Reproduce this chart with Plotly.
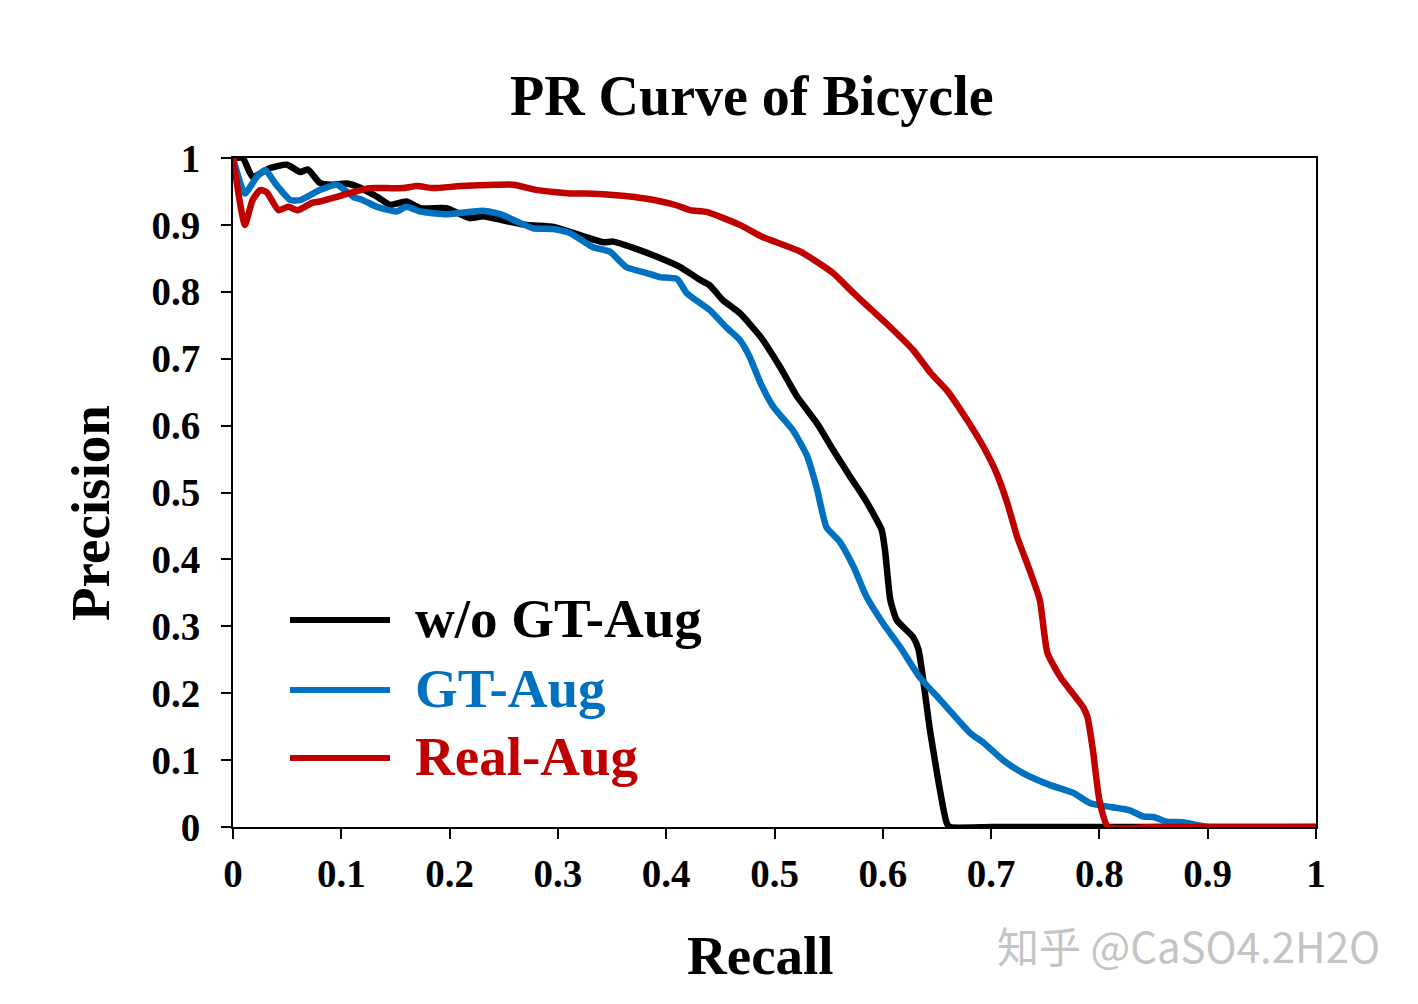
import plotly.graph_objects as go

# ---- data ----
recall_wo = [0.0, 0.009, 0.018, 0.034, 0.05, 0.062, 0.069, 0.080, 0.09, 0.105, 0.117, 0.133, 0.145, 0.16, 0.173,
             0.197, 0.219, 0.231, 0.249, 0.271, 0.296, 0.314, 0.342, 0.351, 0.369, 0.392, 0.413, 0.431, 0.44,
             0.452, 0.468, 0.487, 0.505, 0.521, 0.539, 0.554, 0.570, 0.582, 0.591, 0.599, 0.602, 0.607, 0.613,
             0.628, 0.633, 0.644, 0.659, 0.662, 0.70, 0.80, 0.90, 1.0]
prec_wo = [1.0, 1.0, 0.972, 0.985, 0.99, 0.979, 0.983, 0.963, 0.96, 0.962, 0.956, 0.942, 0.930, 0.935, 0.925,
           0.925, 0.910, 0.913, 0.907, 0.900, 0.897, 0.888, 0.874, 0.875, 0.866, 0.852, 0.837, 0.818, 0.810,
           0.788, 0.768, 0.733, 0.688, 0.643, 0.604, 0.564, 0.523, 0.494, 0.469, 0.444, 0.414, 0.339, 0.309,
           0.284, 0.265, 0.140, 0.006, 0.0, 0.0, 0.0, 0.0, 0.0]

recall_gt = [0.0, 0.011, 0.022, 0.030, 0.039, 0.053, 0.062, 0.080, 0.096, 0.111, 0.120, 0.133, 0.151, 0.160,
             0.173, 0.197, 0.210, 0.231, 0.247, 0.265, 0.277, 0.296, 0.311, 0.332, 0.348, 0.363, 0.382, 0.394,
             0.41, 0.419, 0.44, 0.456, 0.468, 0.477, 0.487, 0.499, 0.517, 0.530, 0.539, 0.548, 0.560, 0.573,
             0.585, 0.600, 0.616, 0.634, 0.653, 0.681, 0.693, 0.711, 0.729, 0.754, 0.776, 0.791, 0.810, 0.828,
             0.840, 0.850, 0.862, 0.877, 0.890, 0.90, 1.0]
prec_gt = [1.0, 0.947, 0.972, 0.982, 0.962, 0.937, 0.937, 0.952, 0.960, 0.942, 0.937, 0.927, 0.920, 0.927,
           0.920, 0.916, 0.918, 0.921, 0.916, 0.903, 0.895, 0.894, 0.888, 0.867, 0.860, 0.837, 0.828, 0.822,
           0.819, 0.798, 0.773, 0.746, 0.728, 0.703, 0.664, 0.628, 0.593, 0.555, 0.507, 0.448, 0.427, 0.389,
           0.344, 0.305, 0.269, 0.224, 0.190, 0.140, 0.126, 0.100, 0.081, 0.063, 0.051, 0.036, 0.030, 0.025,
           0.016, 0.015, 0.008, 0.007, 0.003, 0.0, 0.0]

recall_real = [0.0, 0.011, 0.018, 0.025, 0.031, 0.042, 0.051, 0.060, 0.073, 0.080, 0.096, 0.111, 0.126, 0.142,
               0.157, 0.170, 0.185, 0.210, 0.244, 0.259, 0.281, 0.311, 0.327, 0.357, 0.382, 0.41, 0.422, 0.438,
               0.468, 0.489, 0.524, 0.554, 0.573, 0.607, 0.628, 0.644, 0.659, 0.678, 0.693, 0.705, 0.715, 0.724,
               0.736, 0.745, 0.752, 0.764, 0.785, 0.789, 0.794, 0.800, 0.808, 0.85, 0.90, 1.0]
prec_real = [1.0, 0.900, 0.937, 0.952, 0.949, 0.922, 0.927, 0.922, 0.933, 0.935, 0.942, 0.949, 0.955, 0.955,
             0.955, 0.958, 0.955, 0.958, 0.960, 0.960, 0.952, 0.947, 0.947, 0.944, 0.939, 0.929, 0.922, 0.919,
             0.900, 0.882, 0.860, 0.828, 0.798, 0.747, 0.713, 0.679, 0.653, 0.608, 0.568, 0.529, 0.484, 0.434,
             0.382, 0.339, 0.260, 0.224, 0.179, 0.164, 0.115, 0.040, 0.0, 0.0, 0.0, 0.0]

series_names = ["w/o GT-Aug", "GT-Aug", "Real-Aug"]
series_colors = ["#000000", "#0070C0", "#C00000"]
tick_vals = [0, 0.1, 0.2, 0.3, 0.4, 0.5, 0.6, 0.7, 0.8, 0.9, 1]
tick_text = ["0", "0.1", "0.2", "0.3", "0.4", "0.5", "0.6", "0.7", "0.8", "0.9", "1"]

SERIF = "Liberation Serif"

fig = go.Figure()
data = [(recall_wo, prec_wo), (recall_gt, prec_gt), (recall_real, prec_real)]
for (xs, ys), name, col in zip(data, series_names, series_colors):
    fig.add_trace(go.Scatter(x=xs, y=ys, mode="lines", name=name,
                             line=dict(color=col, width=6.5, shape="spline", smoothing=0.5),
                             showlegend=False))

L, R, T, B = 233, 102, 158, 177
W, H = 1418, 1004

fig.update_layout(
    width=W, height=H,
    margin=dict(l=L, r=R, t=T, b=B),
    paper_bgcolor="white", plot_bgcolor="white",
    title=dict(text="PR Curve of Bicycle", x=0.479, xref="paper", xanchor="center",
               y=1 - 95 / H, yref="container", yanchor="middle",
               font=dict(family=SERIF, size=56, color="black", weight="bold")),
)
axis_common = dict(showgrid=False, zeroline=False, showline=True, linecolor="black", linewidth=2,
                   mirror=True, ticks="outside", ticklen=10, tickwidth=2, tickcolor="black",
                   tickvals=tick_vals, ticktext=tick_text,
                   tickfont=dict(family=SERIF, size=39, color="black", weight="bold"))
fig.update_xaxes(range=[0, 1], ticklabelstandoff=1, **axis_common)
fig.update_yaxes(range=[0, 1], ticklabelstandoff=13, **axis_common)

pw, ph = W - L - R, H - T - B
def px2paper_x(px):
    return (px - L) / pw
def py2paper_y(py):
    return (H - B - py) / ph

# axis titles
fig.add_annotation(text="Recall", xref="paper", yref="paper", x=px2paper_x(760), y=py2paper_y(955),
                   showarrow=False, xanchor="center", yanchor="middle",
                   font=dict(family=SERIF, size=55, color="black", weight="bold"))
fig.add_annotation(text="Precision", xref="paper", yref="paper", x=px2paper_x(90), y=py2paper_y(513),
                   showarrow=False, xanchor="center", yanchor="middle", textangle=-90,
                   font=dict(family=SERIF, size=55, color="black", weight="bold"))

# legend (drawn manually)
legend_y = [620, 690, 758]
for name, col, ly in zip(series_names, series_colors, legend_y):
    fig.add_shape(type="line", xref="paper", yref="paper",
                  x0=px2paper_x(290), x1=px2paper_x(390), y0=py2paper_y(ly), y1=py2paper_y(ly),
                  line=dict(color=col, width=6))
    fig.add_annotation(text=name, xref="paper", yref="paper", x=px2paper_x(413), y=py2paper_y(ly - 2),
                       showarrow=False, xanchor="left", yanchor="middle",
                       font=dict(family=SERIF, size=55, color=col, weight="bold"))

# watermark
fig.add_annotation(text="知乎 @CaSO4.2H2O", xref="paper", yref="paper",
                   x=px2paper_x(1382), y=py2paper_y(944), showarrow=False,
                   xanchor="right", yanchor="middle",
                   font=dict(family="Noto Sans CJK SC", size=42, color="#c4c4c4"))

fig.write_html("out.html")
